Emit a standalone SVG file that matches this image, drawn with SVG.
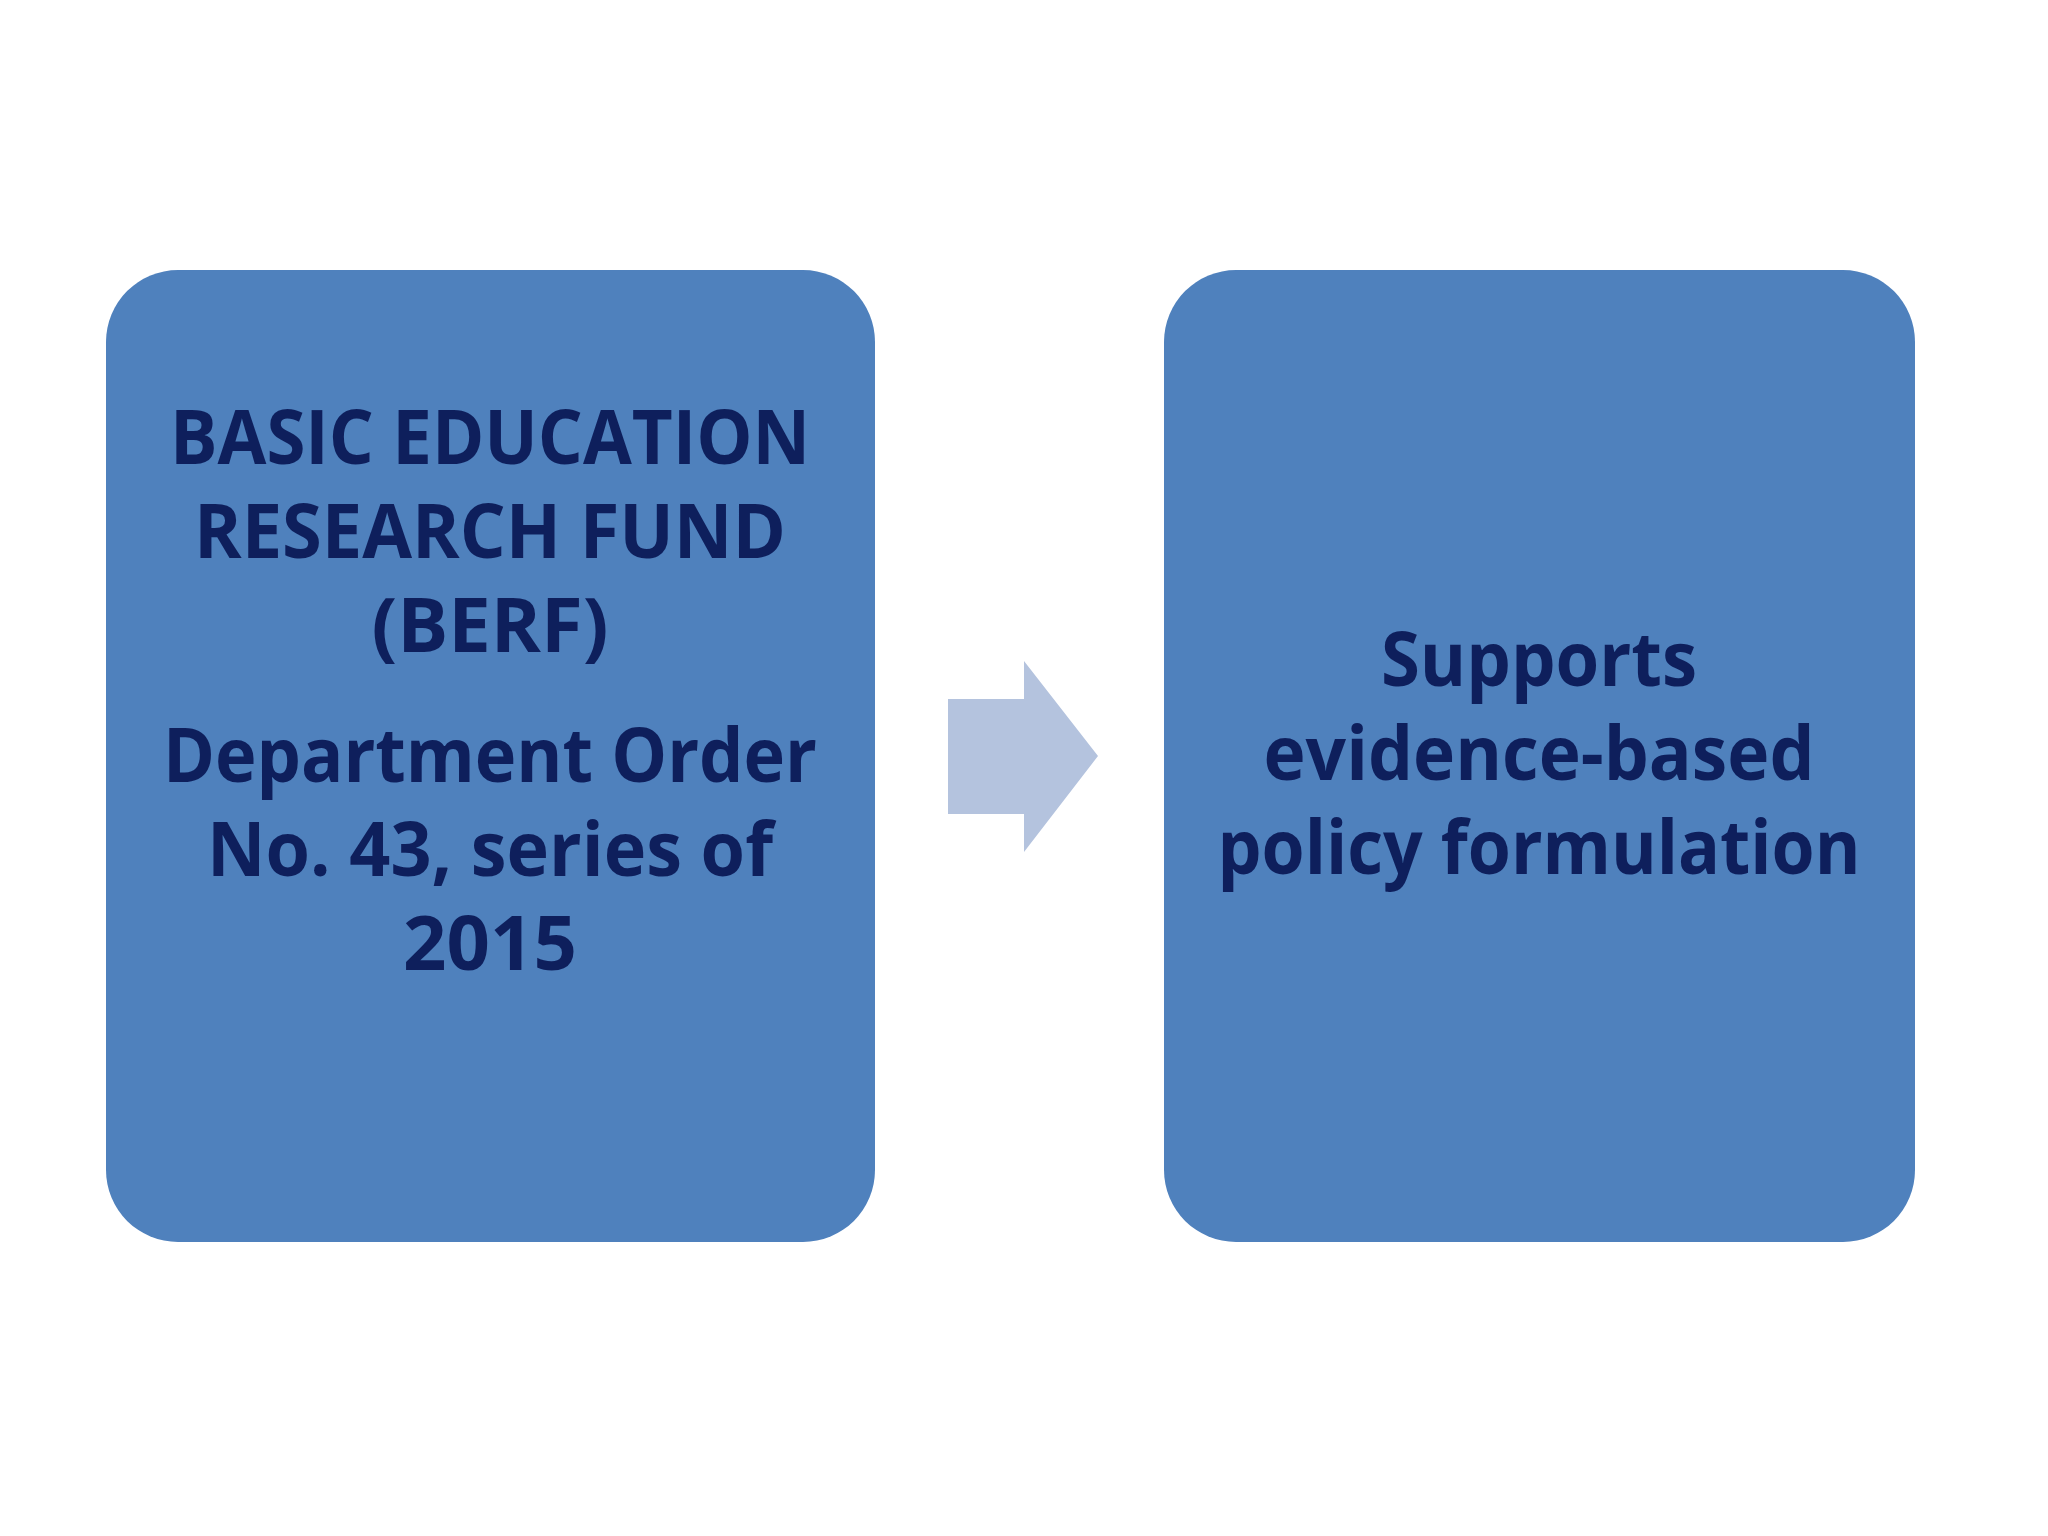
<svg xmlns="http://www.w3.org/2000/svg" width="2048" height="1536" viewBox="0 0 2048 1536">
<style>
.box{fill:#4f81bd}
.t{font-family:"Open Sans","Noto Sans",sans-serif;font-weight:bold;font-size:76px;fill:#0e1f5c;text-anchor:middle}
</style>
<rect width="2048" height="1536" fill="#ffffff"/>
<g id="node-berf">
<rect class="box" x="106" y="270" width="769" height="972" rx="72"/>
<text class="t" x="490" y="464" textLength="640" lengthAdjust="spacingAndGlyphs">BASIC EDUCATION</text>
<text class="t" x="490" y="558" textLength="592" lengthAdjust="spacingAndGlyphs">RESEARCH FUND</text>
<text class="t" x="490" y="652">(BERF)</text>
<text class="t" x="490" y="782" textLength="654" lengthAdjust="spacingAndGlyphs">Department Order</text>
<text class="t" x="490" y="876" textLength="566" lengthAdjust="spacingAndGlyphs">No. 43, series of</text>
<text class="t" x="490" y="970">2015</text>
</g>
<g id="connectors">
<polygon points="948,699 1024,699 1024,661 1098,756 1024,852 1024,814 948,814" fill="#b4c3de"/>
</g>
<g id="node-policy">
<rect class="box" x="1164" y="270" width="751" height="972" rx="72"/>
<text class="t" x="1539" y="686" textLength="316" lengthAdjust="spacingAndGlyphs">Supports</text>
<text class="t" x="1539" y="780" textLength="551" lengthAdjust="spacingAndGlyphs">evidence-based</text>
<text class="t" x="1539" y="874" textLength="643" lengthAdjust="spacingAndGlyphs">policy formulation</text>
</g>
</svg>
